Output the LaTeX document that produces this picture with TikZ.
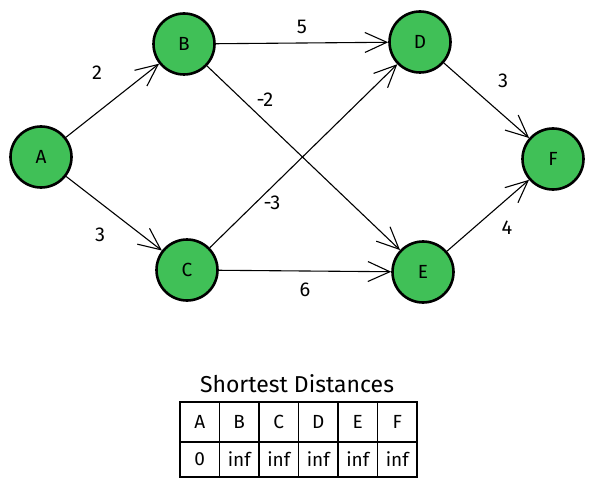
\documentclass[tikz,border=0pt]{standalone}
\usepackage{fontspec}
\setmainfont{Fira Sans}
\usetikzlibrary{arrows.meta}
\definecolor{nodegreen}{RGB}{64,192,87}

\begin{document}
\begin{tikzpicture}[x=1pt,y=-1pt,
    vertex/.style={circle,draw=black,line width=2.6pt,fill=nodegreen,minimum size=61pt,inner sep=0pt,font=\fontsize{19}{19}\selectfont},
    edge/.style={-{Straight Barb[length=22pt,width=20pt]},line width=1.1pt},
    weight/.style={font=\fontsize{20}{20}\selectfont},
    cell/.style={draw,line width=1.2pt,minimum width=39.5pt,inner sep=0pt,font=\fontsize{19}{19}\selectfont}]
    \useasboundingbox (0,0) rectangle (596,489);

    % Vertices
    \node[vertex] (A) at (41,157) {A};
    \node[vertex] (B) at (184,44) {B};
    \node[vertex] (C) at (187,270) {C};
    \node[vertex] (D) at (420,42) {D};
    \node[vertex] (E) at (423,272) {E};
    \node[vertex] (F) at (553,159) {F};

    % Edges
    \draw[edge] (A) -- (B);
    \draw[edge] (A) -- (C);
    \draw[edge] (B) -- (D);
    \draw[edge] (B) -- (E);
    \draw[edge] (C) -- (D);
    \draw[edge] (C) -- (E);
    \draw[edge] (D) -- (F);
    \draw[edge] (E) -- (F);

    % Weights
    \node[weight] (wAB) at (97,73) {2};
    \node[weight] (wAC) at (100,235) {3};
    \node[weight] (wBD) at (302,27) {5};
    \node[weight] (wBE) at (265,100) {-2};
    \node[weight] (wCD) at (272,203) {-3};
    \node[weight] (wCE) at (305,290) {6};
    \node[weight] (wDF) at (503,81) {3};
    \node[weight] (wEF) at (507,228) {4};

    % Distance table
    \node[font=\fontsize{23}{23}\selectfont] (title) at (297,384) {Shortest Distances};
    \foreach \v/\d [count=\i from 0] in {A/0,B/inf,C/inf,D/inf,E/inf,F/inf} {
        \node[cell,minimum height=40pt] (h\v) at ({199.75+39.5*\i},422) {\v};
        \node[cell,minimum height=35pt] (d\v) at ({199.75+39.5*\i},459.5) {\d};
    }
\end{tikzpicture}
\end{document}
